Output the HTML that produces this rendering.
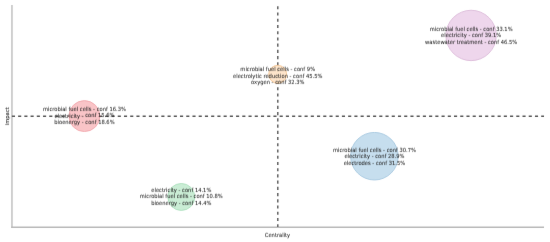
<!DOCTYPE html>
<html><head><meta charset="utf-8"><style>
html,body{margin:0;padding:0;background:#fff;}
svg{display:block;}
text{font-family:"DejaVu Sans",sans-serif;font-size:5.18px;fill:#262626;stroke:#262626;stroke-width:0.05px;text-anchor:middle;}
</style></head><body>
<svg width="550" height="242" viewBox="0 0 550 242">
<defs>
<filter id="fg" x="0" y="0" width="550" height="242" filterUnits="userSpaceOnUse"><feConvolveMatrix order="3" kernelMatrix="0.0016 0.0371 0.0016 0.0371 0.8450 0.0371 0.0016 0.0371 0.0016" divisor="1" preserveAlpha="false" edgeMode="none"/></filter>
<filter id="ft" x="0" y="0" width="550" height="242" filterUnits="userSpaceOnUse"><feConvolveMatrix order="3" kernelMatrix="0.0017 0.1030 0.0017 0.0129 0.7613 0.0129 0.0017 0.1030 0.0017" divisor="1" preserveAlpha="false" edgeMode="none"/></filter>
</defs>
<rect width="550" height="242" fill="#fff"/>
<g filter="url(#fg)">
<line x1="11.95" y1="5" x2="11.95" y2="228" stroke="#c2c2c2" stroke-width="1.5"/>
<line x1="11.2" y1="227.3" x2="544" y2="227.3" stroke="#b9b9b9" stroke-width="1.5"/>
<line x1="277.8" y1="6.24" x2="277.8" y2="227" stroke="#585858" stroke-width="1.4" stroke-dasharray="3.1135 3.1135"/>
<line x1="11.88" y1="116.2" x2="544" y2="116.2" stroke="#585858" stroke-width="1.4" stroke-dasharray="3.1135 3.1135"/>
<circle cx="471.1" cy="35.45" r="25.2" fill="#ebcfe9" stroke="#d3a9cf" stroke-width="0.8" opacity="0.85"/>
<circle cx="277.7" cy="74.3" r="9.0" fill="#fde0c2" stroke="#f4ba7a" stroke-width="0.8" opacity="0.85"/>
<circle cx="84.4" cy="116.1" r="15.5" fill="#f8babe" stroke="#ef949a" stroke-width="0.8" opacity="0.85"/>
<circle cx="181.3" cy="196.95" r="13.5" fill="#c1eace" stroke="#99d9af" stroke-width="0.8" opacity="0.85"/>
<circle cx="374.4" cy="156.2" r="23.8" fill="#bdd9eb" stroke="#8fbad8" stroke-width="0.8" opacity="0.85"/>
</g>
<g filter="url(#ft)">
<text rotate="0.01" transform="translate(471.1,30.70) scale(1,1.08)">microbial fuel cells - conf 33.1%</text>
<text rotate="0.01" transform="translate(471.1,36.85) scale(1,1.08)">electricity - conf 39.1%</text>
<text rotate="0.01" transform="translate(471.1,43.65) scale(1,1.08)">wastewater treatment - conf 46.5%</text>
<text rotate="0.01" transform="translate(277.7,70.85) scale(1,1.08)">microbial fuel cells - conf 9%</text>
<text rotate="0.01" transform="translate(277.7,77.75) scale(1,1.08)">electrolytic reduction - conf 45.5%</text>
<text rotate="0.01" transform="translate(277.7,84.35) scale(1,1.08)">oxygen - conf 32.3%</text>
<text rotate="0.01" transform="translate(84.4,111.25) scale(1,1.08)">microbial fuel cells - conf 16.3%</text>
<text rotate="0.01" transform="translate(84.4,117.50) scale(1,1.08)">electricity - conf 15.6%</text>
<text rotate="0.01" transform="translate(84.4,124.00) scale(1,1.08)">bioenergy - conf 18.6%</text>
<text rotate="0.01" transform="translate(181.3,191.70) scale(1,1.08)">electricity - conf 14.1%</text>
<text rotate="0.01" transform="translate(181.3,198.00) scale(1,1.08)">microbial fuel cells - conf 10.8%</text>
<text rotate="0.01" transform="translate(181.3,204.60) scale(1,1.08)">bioenergy - conf 14.4%</text>
<text rotate="0.01" transform="translate(374.4,151.60) scale(1,1.08)">microbial fuel cells - conf 30.7%</text>
<text rotate="0.01" transform="translate(374.4,158.30) scale(1,1.08)">electricity - conf 28.9%</text>
<text rotate="0.01" transform="translate(374.4,164.90) scale(1,1.08)">electrodes - conf 31.5%</text>
<text rotate="0.01" transform="translate(277.5,236.8) scale(1,1.08)">Centrality</text>
<text rotate="0.01" transform="translate(8.8,116.3) rotate(-90)" style="stroke-width:0.1px">Impact</text>
</g>
</svg>
</body></html>
